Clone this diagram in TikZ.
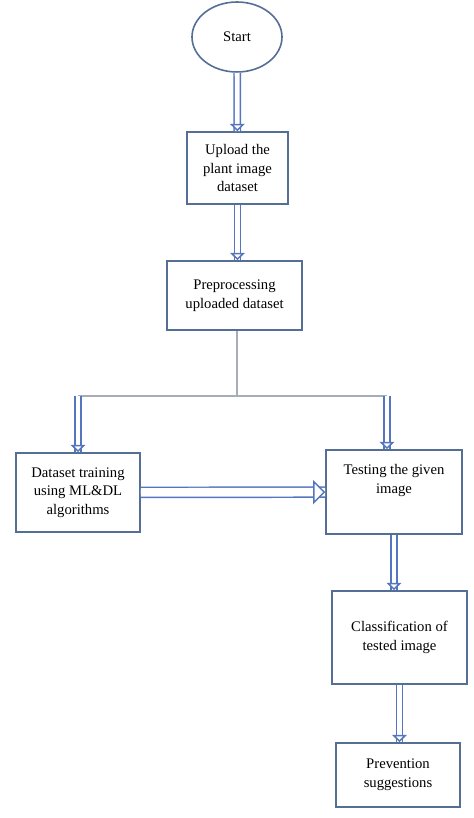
\documentclass[tikz,border=0pt]{standalone}
\usepackage{fontspec}
\setmainfont{Liberation Serif}
\usetikzlibrary{shapes.geometric,arrows.meta}
\definecolor{boxline}{RGB}{84,110,150}
\definecolor{arrowline}{RGB}{84,118,190}
\definecolor{joinline}{RGB}{165,172,186}
\tikzset{
  stage/.style={draw=boxline, line width=1.2pt, align=center, inner sep=2pt,
    font=\fontsize{11}{14}\selectfont},
  flow/.style={draw=arrowline, line width=1.1pt, double=white, double distance=3.6pt,
    postaction={draw=white, double=none, line width=1.5pt,
      -{Triangle[open, color=arrowline, fill=white, line width=1.1pt, length=5.5pt, width=11pt]}}},
  wideflow/.style={draw=arrowline, line width=1.1pt, double=white, double distance=6.5pt,
    postaction={draw=white, double=none, line width=3pt,
      -{Triangle[open, color=arrowline, fill=white, line width=1.1pt, length=9pt, width=18pt]}}},
  joinpath/.style={draw=joinline, line width=0.9pt}
}
\begin{document}
\begin{tikzpicture}[x=0.75pt, y=-0.75pt]
    \useasboundingbox (0,0) rectangle (474,818);
    \node[stage, ellipse, minimum width=67.5pt, minimum height=52.5pt] (start) at (237,37) {Start};
    \node[stage, minimum width=75.75pt, minimum height=54pt] (upload) at (237.5,168) {Upload the\\plant image\\dataset};
    \node[stage, minimum width=101.25pt, minimum height=51.75pt] (prep) at (234.5,295.5) {Preprocessing\\uploaded dataset};
    \node[stage, minimum width=93pt, minimum height=59.25pt] (train) at (78,492.5) {Dataset training\\using ML\&DL\\algorithms};
    \node[stage, minimum width=102pt, minimum height=63pt] (test) at (394,492) {Testing the given\\image\\[6pt]};
    \node[stage, minimum width=101.25pt, minimum height=69.75pt] (classify) at (399.5,637.5) {Classification of\\tested image};
    \node[stage, minimum width=93pt, minimum height=48pt] (prevent) at (398,775) {Prevention\\suggestions};
    \coordinate (split) at (237,396);
    \coordinate (lefttop) at (78,396);
    \coordinate (righttop) at (387,396);
    \draw[flow] (start) -- (upload);
    \draw[flow] (upload.south) -- (upload.south |- prep.north);
    \draw[joinpath] (prep.south -| split) -- (split);
    \draw[joinpath] (lefttop) -- (righttop);
    \draw[flow] (lefttop) -- (train.north);
    \draw[flow] (righttop) -- (righttop |- test.north);
    \draw[wideflow] (train) -- (test);
    \draw[flow] (test.south) -- (test.south |- classify.north);
    \draw[flow] (classify.south) -- (classify.south |- prevent.north);
\end{tikzpicture}
\end{document}
